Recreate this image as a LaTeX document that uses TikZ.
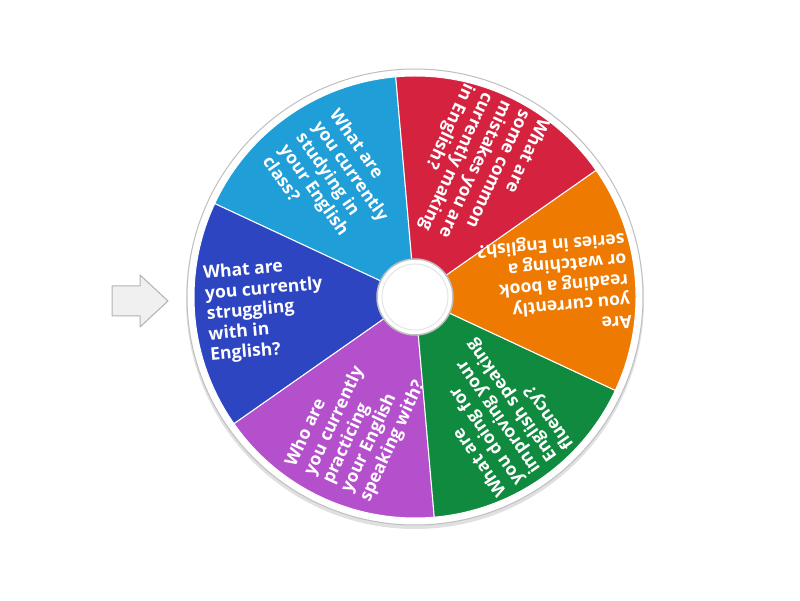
\documentclass[tikz,border=0pt]{standalone}
\usepackage{fontspec}
\setmainfont{Open Sans}
\usetikzlibrary{calc}
\begin{document}
\begin{tikzpicture}[x=1pt,y=1pt,
  seg/.style={draw=white,line width=1pt},
  pointer/.style={draw=black!30,fill=black!6,line width=1pt,line join=round},
  lbl/.style={text=white,align=left,font=\fontsize{17.5}{20.5}\selectfont\bfseries,inner sep=0pt}]
\useasboundingbox (0,0) rectangle (800,600);
\coordinate (c) at (415,303);
\definecolor{segcyan}{HTML}{1F9ED8}
\definecolor{segblue}{HTML}{2E45C2}
\definecolor{segpurple}{HTML}{B550CC}
\definecolor{seggreen}{HTML}{0F8A3E}
\definecolor{segorange}{HTML}{EE7A02}
\definecolor{segred}{HTML}{D4223F}
\fill[black!12] (c)+(0,-3) circle (229);
\draw[black!25,fill=white,line width=1pt] (c) circle (228);
\foreach \a/\col in {95/segcyan,155/segblue,215/segpurple,275/seggreen,335/segorange,35/segred}{
  \fill[\col,seg] (c) -- ++(\a:221) arc[start angle=\a,end angle=\a+60,radius=221] -- cycle;
}
\node[lbl,rotate=-55] (t1) at ($(c)+(125:140)$) {What are\\you currently\\studying in\\your English\\class?};
\node[lbl,rotate=5] (t2) at ($(c)+(185:150)$) {What are\\you currently\\struggling\\with in\\English?};
\node[lbl,rotate=65] (t3) at ($(c)+(245:140)$) {Who are\\you currently\\practicing\\your English\\speaking with?};
\node[lbl,rotate=125] (t4) at ($(c)+(305:140)$) {What are\\you doing for\\improving your\\English speaking\\fluency?};
\node[lbl,rotate=185] (t5) at ($(c)+(5:140)$) {Are\\you currently\\reading a book\\or watching a\\series in English?};
\node[lbl,rotate=245] (t6) at ($(c)+(65:140)$) {What are\\some common\\mistakes you are\\currently making\\in English?};
\draw[black!25,fill=white,line width=1.5pt] (c) circle (38);
\draw[black!10,line width=1pt] (c) circle (33);
\draw[pointer] (112,314) -- (140,314) -- (140,325) -- (168,299) -- (140,273) -- (140,284) -- (112,284) -- cycle;
\end{tikzpicture}
\end{document}
